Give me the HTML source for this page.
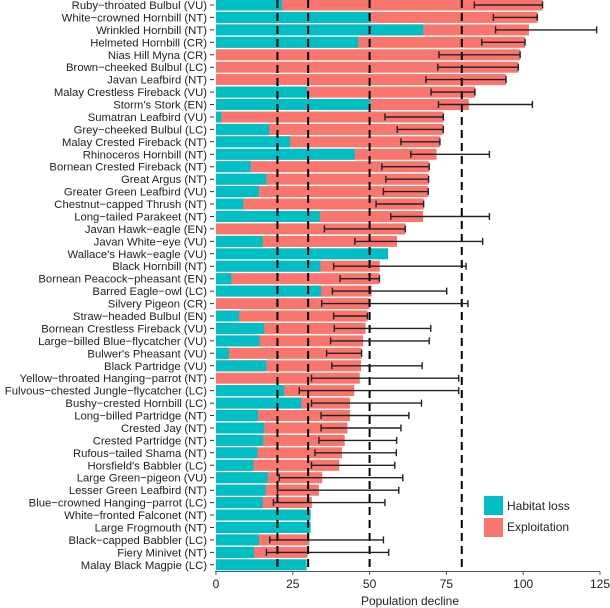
<!DOCTYPE html>
<html><head><meta charset="utf-8"><style>
html,body{margin:0;padding:0;background:#fff}
svg{display:block}
text{font-family:"Liberation Sans",sans-serif;fill:#222}
</style></head><body>
<svg width="610" height="608" viewBox="0 0 610 608" xmlns="http://www.w3.org/2000/svg">
<g font-size="11.3" text-anchor="end">
<text x="207" y="9">Ruby−throated Bulbul (VU)</text>
<text x="207" y="21.4">White−crowned Hornbill (NT)</text>
<text x="207" y="33.9">Wrinkled Hornbill (NT)</text>
<text x="207" y="46.3">Helmeted Hornbill (CR)</text>
<text x="207" y="58.8">Nias Hill Myna (CR)</text>
<text x="207" y="71.2">Brown−cheeked Bulbul (LC)</text>
<text x="207" y="83.6">Javan Leafbird (NT)</text>
<text x="207" y="96.1">Malay Crestless Fireback (VU)</text>
<text x="207" y="108.5">Storm's Stork (EN)</text>
<text x="207" y="121">Sumatran Leafbird (VU)</text>
<text x="207" y="133.4">Grey−cheeked Bulbul (LC)</text>
<text x="207" y="145.8">Malay Crested Fireback (NT)</text>
<text x="207" y="158.3">Rhinoceros Hornbill (NT)</text>
<text x="207" y="170.7">Bornean Crested Fireback (NT)</text>
<text x="207" y="183.2">Great Argus (NT)</text>
<text x="207" y="195.6">Greater Green Leafbird (VU)</text>
<text x="207" y="208">Chestnut−capped Thrush (NT)</text>
<text x="207" y="220.5">Long−tailed Parakeet (NT)</text>
<text x="207" y="232.9">Javan Hawk−eagle (EN)</text>
<text x="207" y="245.4">Javan White−eye (VU)</text>
<text x="207" y="257.8">Wallace's Hawk−eagle (VU)</text>
<text x="207" y="270.2">Black Hornbill (NT)</text>
<text x="207" y="282.7">Bornean Peacock−pheasant (EN)</text>
<text x="207" y="295.1">Barred Eagle−owl (LC)</text>
<text x="207" y="307.6">Silvery Pigeon (CR)</text>
<text x="207" y="320">Straw−headed Bulbul (EN)</text>
<text x="207" y="332.4">Bornean Crestless Fireback (VU)</text>
<text x="207" y="344.9">Large−billed Blue−flycatcher (VU)</text>
<text x="207" y="357.3">Bulwer's Pheasant (VU)</text>
<text x="207" y="369.8">Black Partridge (VU)</text>
<text x="207" y="382.2">Yellow−throated Hanging−parrot (NT)</text>
<text x="207" y="394.6">Fulvous−chested Jungle−flycatcher (LC)</text>
<text x="207" y="407.1">Bushy−crested Hornbill (LC)</text>
<text x="207" y="419.5">Long−billed Partridge (NT)</text>
<text x="207" y="432">Crested Jay (NT)</text>
<text x="207" y="444.4">Crested Partridge (NT)</text>
<text x="207" y="456.8">Rufous−tailed Shama (NT)</text>
<text x="207" y="469.3">Horsfield's Babbler (LC)</text>
<text x="207" y="481.7">Large Green−pigeon (VU)</text>
<text x="207" y="494.2">Lesser Green Leafbird (NT)</text>
<text x="207" y="506.6">Blue−crowned Hanging−parrot (LC)</text>
<text x="207" y="519">White−fronted Falconet (NT)</text>
<text x="207" y="531.5">Large Frogmouth (NT)</text>
<text x="207" y="543.9">Black−capped Babbler (LC)</text>
<text x="207" y="556.4">Fiery Minivet (NT)</text>
<text x="207" y="568.8">Malay Black Magpie (LC)</text>
</g>
<g stroke="#333" stroke-width="1">
<path d="M210 5H214M210 17.4H214M210 29.9H214M210 42.3H214M210 54.8H214M210 67.2H214M210 79.6H214M210 92.1H214M210 104.5H214M210 117H214M210 129.4H214M210 141.8H214M210 154.3H214M210 166.7H214M210 179.2H214M210 191.6H214M210 204H214M210 216.5H214M210 228.9H214M210 241.4H214M210 253.8H214M210 266.2H214M210 278.7H214M210 291.1H214M210 303.6H214M210 316H214M210 328.4H214M210 340.9H214M210 353.3H214M210 365.8H214M210 378.2H214M210 390.6H214M210 403.1H214M210 415.5H214M210 428H214M210 440.4H214M210 452.8H214M210 465.3H214M210 477.7H214M210 490.2H214M210 502.6H214M210 515H214M210 527.5H214M210 539.9H214M210 552.4H214M210 564.8H214"/>
</g>
<g transform="translate(216,0) scale(3.072,1)">
<g fill="#F8766D">
<rect x="0" y="-0.5" width="106.3" height="11"/>
<rect x="0" y="11.9" width="104.6" height="11"/>
<rect x="0" y="24.4" width="101.9" height="11"/>
<rect x="0" y="36.8" width="100.6" height="11"/>
<rect x="0" y="49.3" width="99" height="11"/>
<rect x="0" y="61.7" width="98.4" height="11"/>
<rect x="0" y="74.1" width="94.4" height="11"/>
<rect x="0" y="86.6" width="84.3" height="11"/>
<rect x="0" y="99" width="82.3" height="11"/>
<rect x="0" y="111.5" width="74" height="11"/>
<rect x="0" y="123.9" width="74" height="11"/>
<rect x="0" y="136.3" width="72.9" height="11"/>
<rect x="0" y="148.8" width="71.8" height="11"/>
<rect x="0" y="161.2" width="69.4" height="11"/>
<rect x="0" y="173.7" width="69.2" height="11"/>
<rect x="0" y="186.1" width="69.1" height="11"/>
<rect x="0" y="198.5" width="67.6" height="11"/>
<rect x="0" y="211" width="67.4" height="11"/>
<rect x="0" y="223.4" width="61.6" height="11"/>
<rect x="0" y="235.9" width="58.9" height="11"/>
<rect x="0" y="260.7" width="53.3" height="11"/>
<rect x="0" y="273.2" width="53.2" height="11"/>
<rect x="0" y="285.6" width="50.7" height="11"/>
<rect x="0" y="298.1" width="50" height="11"/>
<rect x="0" y="310.5" width="49.3" height="11"/>
<rect x="0" y="322.9" width="48.7" height="11"/>
<rect x="0" y="335.4" width="47.9" height="11"/>
<rect x="0" y="347.8" width="47.4" height="11"/>
<rect x="0" y="360.3" width="47.2" height="11"/>
<rect x="0" y="372.7" width="46.8" height="11"/>
<rect x="0" y="385.1" width="45" height="11"/>
<rect x="0" y="397.6" width="43.6" height="11"/>
<rect x="0" y="410" width="43.6" height="11"/>
<rect x="0" y="422.5" width="42.8" height="11"/>
<rect x="0" y="434.9" width="41.9" height="11"/>
<rect x="0" y="447.3" width="41" height="11"/>
<rect x="0" y="459.8" width="40.1" height="11"/>
<rect x="0" y="472.2" width="34.6" height="11"/>
<rect x="0" y="484.7" width="33.5" height="11"/>
<rect x="0" y="497.1" width="31.2" height="11"/>
<rect x="0" y="534.4" width="30.4" height="11"/>
<rect x="0" y="546.9" width="29.8" height="11"/>
</g>
<g fill="#00BFC4">
<rect x="0" y="-0.5" width="21.6" height="11"/>
<rect x="0" y="11.9" width="50.3" height="11"/>
<rect x="0" y="24.4" width="67.5" height="11"/>
<rect x="0" y="36.8" width="46.3" height="11"/>
<rect x="0" y="86.6" width="29.8" height="11"/>
<rect x="0" y="99" width="50.3" height="11"/>
<rect x="0" y="111.5" width="1.7" height="11"/>
<rect x="0" y="123.9" width="17.3" height="11"/>
<rect x="0" y="136.3" width="24.1" height="11"/>
<rect x="0" y="148.8" width="45.2" height="11"/>
<rect x="0" y="161.2" width="11.3" height="11"/>
<rect x="0" y="173.7" width="16.4" height="11"/>
<rect x="0" y="186.1" width="14" height="11"/>
<rect x="0" y="198.5" width="8.9" height="11"/>
<rect x="0" y="211" width="33.8" height="11"/>
<rect x="0" y="235.9" width="15.2" height="11"/>
<rect x="0" y="248.3" width="56" height="11"/>
<rect x="0" y="260.7" width="34" height="11"/>
<rect x="0" y="273.2" width="5" height="11"/>
<rect x="0" y="285.6" width="34.2" height="11"/>
<rect x="0" y="310.5" width="7.5" height="11"/>
<rect x="0" y="322.9" width="15.7" height="11"/>
<rect x="0" y="335.4" width="14.2" height="11"/>
<rect x="0" y="347.8" width="4.2" height="11"/>
<rect x="0" y="360.3" width="16.4" height="11"/>
<rect x="0" y="385.1" width="22.1" height="11"/>
<rect x="0" y="397.6" width="27.8" height="11"/>
<rect x="0" y="410" width="13.7" height="11"/>
<rect x="0" y="422.5" width="15.7" height="11"/>
<rect x="0" y="434.9" width="15.4" height="11"/>
<rect x="0" y="447.3" width="13.5" height="11"/>
<rect x="0" y="459.8" width="12.2" height="11"/>
<rect x="0" y="472.2" width="16.8" height="11"/>
<rect x="0" y="484.7" width="16.2" height="11"/>
<rect x="0" y="497.1" width="15.2" height="11"/>
<rect x="0" y="509.5" width="30.8" height="11"/>
<rect x="0" y="522" width="30.8" height="11"/>
<rect x="0" y="534.4" width="14" height="11"/>
<rect x="0" y="546.9" width="12.4" height="11"/>
<rect x="0" y="559.3" width="29.5" height="11"/>
</g>
<path d="M20 0V570M30 0V570M50 0V570M80 0V570" stroke="#000" stroke-width="2" stroke-dasharray="8 5" vector-effect="non-scaling-stroke" fill="none"/>
<path stroke="#222" stroke-width="1.4" vector-effect="non-scaling-stroke" fill="none" d="
M84.1 5H106.3M84.1 1.5V8.5M106.3 1.5V8.5
M90.3 17.4H104.6M90.3 13.9V20.9M104.6 13.9V20.9
M91 29.9H123.9M91 26.4V33.4M123.9 26.4V33.4
M86.5 42.3H100.6M86.5 38.8V45.8M100.6 38.8V45.8
M72.6 54.8H99M72.6 51.3V58.3M99 51.3V58.3
M72.2 67.2H98.4M72.2 63.7V70.7M98.4 63.7V70.7
M68.3 79.6H94.4M68.3 76.1V83.1M94.4 76.1V83.1
M70 92.1H84.3M70 88.6V95.6M84.3 88.6V95.6
M72.4 104.5H103M72.4 101V108M103 101V108
M55 117H74M55 113.5V120.5M74 113.5V120.5
M59 129.4H74M59 125.9V132.9M74 125.9V132.9
M60.2 141.8H72.9M60.2 138.3V145.3M72.9 138.3V145.3
M63.4 154.3H89M63.4 150.8V157.8M89 150.8V157.8
M54 166.7H69.4M54 163.2V170.2M69.4 163.2V170.2
M55.3 179.2H69.2M55.3 175.7V182.7M69.2 175.7V182.7
M54.5 191.6H69.1M54.5 188.1V195.1M69.1 188.1V195.1
M52.1 204H67.6M52.1 200.5V207.5M67.6 200.5V207.5
M56.9 216.5H89M56.9 213V220M89 213V220
M35.3 228.9H61.6M35.3 225.4V232.4M61.6 225.4V232.4
M45.2 241.4H86.8M45.2 237.9V244.9M86.8 237.9V244.9
M38.3 266.2H81.4M38.3 262.7V269.7M81.4 262.7V269.7
M40.4 278.7H53.2M40.4 275.2V282.2M53.2 275.2V282.2
M37.9 291.1H75.1M37.9 287.6V294.6M75.1 287.6V294.6
M34.4 303.6H82M34.4 300.1V307.1M82 300.1V307.1
M38.3 316H49.3M38.3 312.5V319.5M49.3 312.5V319.5
M38.5 328.4H69.9M38.5 324.9V331.9M69.9 324.9V331.9
M37.3 340.9H69.4M37.3 337.4V344.4M69.4 337.4V344.4
M36 353.3H47.4M36 349.8V356.8M47.4 349.8V356.8
M37.7 365.8H67.1M37.7 362.3V369.3M67.1 362.3V369.3
M31.1 378.2H79M31.1 374.7V381.7M79 374.7V381.7
M27.1 390.6H79M27.1 387.1V394.1M79 387.1V394.1
M31.1 403.1H66.9M31.1 399.6V406.6M66.9 399.6V406.6
M34.2 415.5H62.8M34.2 412V419M62.8 412V419
M34.2 428H60.2M34.2 424.5V431.5M60.2 424.5V431.5
M33.5 440.4H58.8M33.5 436.9V443.9M58.8 436.9V443.9
M32.2 452.8H58.7M32.2 449.3V456.3M58.7 449.3V456.3
M31.1 465.3H58.2M31.1 461.8V468.8M58.2 461.8V468.8
M20.6 477.7H60.8M20.6 474.2V481.2M60.8 474.2V481.2
M20 490.2H59.5M20 486.7V493.7M59.5 486.7V493.7
M18.7 502.6H55M18.7 499.1V506.1M55 499.1V506.1
M17.5 539.9H54.5M17.5 536.4V543.4M54.5 536.4V543.4
M16.4 552.4H56.2M16.4 548.9V555.9M56.2 548.9V555.9
"/>
</g>
<g stroke="#555" stroke-width="1" fill="none">
<path d="M215 571.5H600M216 571.5V575M292.8 571.5V575M369.6 571.5V575M446.4 571.5V575M523.2 571.5V575M600 571.5V575"/>
</g>
<g font-size="12" text-anchor="middle" fill="#333">
<text x="216" y="588">0</text>
<text x="292.8" y="588">25</text>
<text x="369.6" y="588">50</text>
<text x="446.4" y="588">75</text>
<text x="523.2" y="588">100</text>
<text x="600" y="588">125</text>
<text x="410" y="605">Population decline</text>
</g>
<rect x="484" y="496" width="19" height="19" fill="#00BFC4"/>
<rect x="484" y="518" width="19" height="19" fill="#F8766D"/>
<g font-size="12">
<text x="507" y="510">Habitat loss</text>
<text x="507" y="531">Exploitation</text>
</g>
</svg>
</body></html>
